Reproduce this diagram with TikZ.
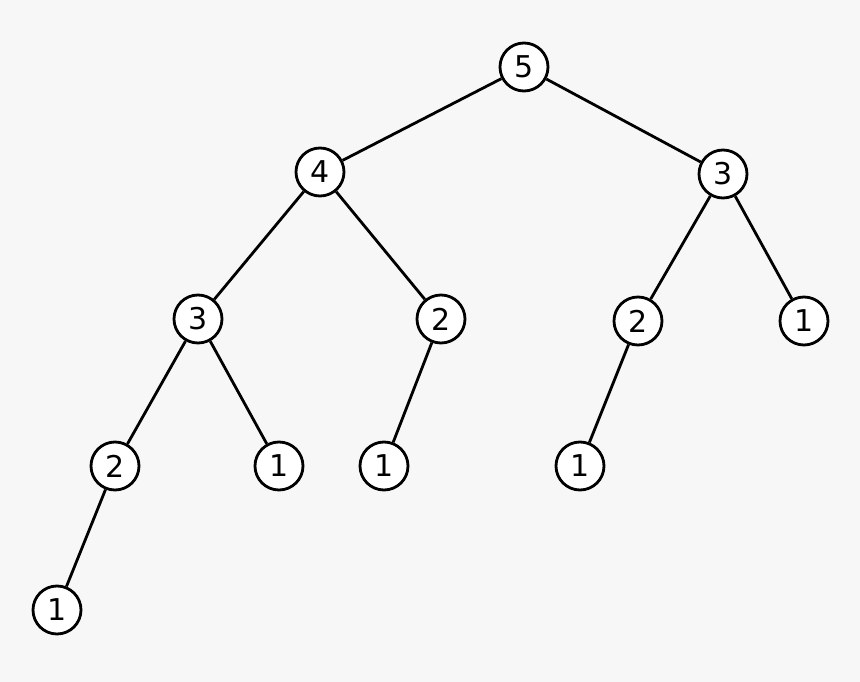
\documentclass[tikz,border=0pt]{standalone}
\usepackage{fontspec}
\setmainfont{DejaVu Sans}
\definecolor{bg}{HTML}{F7F7F7}
\begin{document}
\begin{tikzpicture}[x=1pt,y=-1pt,
  tn/.style={circle,draw=black,fill=white,line width=2.8pt,minimum size=48pt,inner sep=0pt,font=\fontsize{30}{30}\selectfont},
  edge/.style={line width=2.8pt}]
\fill[bg] (0,0) rectangle (860,682);
\useasboundingbox (0,0) rectangle (860,682);
\node[tn] (a) at (524,67) {5};
\node[tn] (b) at (320,172) {4};
\node[tn] (c) at (723,174) {3};
\node[tn] (d) at (198,319) {3};
\node[tn] (e) at (441,319) {2};
\node[tn] (f) at (638,321) {2};
\node[tn] (g) at (804,321) {1};
\node[tn] (h) at (115,466) {2};
\node[tn] (i) at (279,466) {1};
\node[tn] (j) at (384,466) {1};
\node[tn] (k) at (580,466) {1};
\node[tn] (l) at (57,610) {1};
\draw[edge] (a) -- (b);
\draw[edge] (a) -- (c);
\draw[edge] (b) -- (d);
\draw[edge] (b) -- (e);
\draw[edge] (c) -- (f);
\draw[edge] (c) -- (g);
\draw[edge] (d) -- (h);
\draw[edge] (d) -- (i);
\draw[edge] (e) -- (j);
\draw[edge] (f) -- (k);
\draw[edge] (h) -- (l);
\end{tikzpicture}
\end{document}
